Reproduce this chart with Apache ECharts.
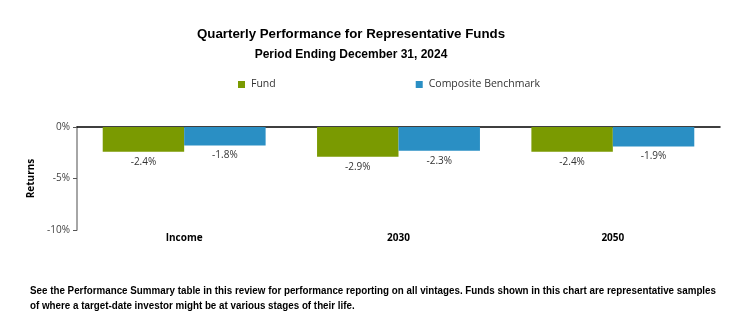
<!DOCTYPE html>
<html><head><meta charset="utf-8">
<script src="https://cdn.jsdelivr.net/npm/echarts@6/dist/echarts.min.js"></script>
<style>html,body{margin:0;padding:0;background:#fff}#c{width:747px;height:332px}</style>
</head><body><div id="c"></div>
<script>
const categories = ['Income', '2030', '2050'];
const fundValues = [-2.4, -2.9, -2.4];
const benchmarkValues = [-1.8, -2.3, -1.9];
const yTicks = [0, -5, -10];
const titleText = 'Quarterly Performance for Representative Funds';
const subtitleText = 'Period Ending December 31, 2024';
const footLine1 = 'See the Performance Summary table in this review for performance reporting on all vintages. Funds shown in this chart are representative samples';
const footLine2 = 'of where a target-date investor might be at various stages of their life.';

const footFont = 'bold 10.5px "Liberation Sans"';
const mctx = document.createElement('canvas').getContext('2d');
mctx.font = footFont;
const footScale = 686 / mctx.measureText(footLine1).width;

const chart = echarts.init(document.getElementById('c'), null, {renderer: 'canvas'});
const labelStyle = {show: true, position: 'bottom', distance: 5, fontSize: 10, color: '#333', fontFamily: 'Open Sans', formatter: p => p.value.toFixed(1) + '%'};
chart.setOption({
  animation: false,
  title: [
    {text: titleText, left: 346, textAlign: 'center', top: 23, textStyle: {fontFamily: 'Liberation Sans', fontWeight: 'bold', fontSize: 13.3, color: '#000'}},
    {text: subtitleText, left: 346, textAlign: 'center', top: 44, textStyle: {fontFamily: 'Liberation Sans', fontWeight: 'bold', fontSize: 12, color: '#000'}}
  ],
  legend: {left: 233, top: 74, itemWidth: 7, itemHeight: 7, itemGap: 140, icon: 'rect',
    textStyle: {fontFamily: 'Open Sans', fontSize: 10.5, color: '#333', padding: [0,0,0,1]}},
  grid: {left: 77, right: 27, top: 127, bottom: 102},
  xAxis: [
    {type: 'category', data: categories, position: 'bottom',
      axisLine: {show: false}, axisTick: {show: false},
      axisLabel: {margin: 3, fontWeight: 'bold', fontSize: 10, color: '#000', fontFamily: 'Open Sans'}},
    {type: 'category', data: categories, position: 'top',
      axisLine: {show: true, lineStyle: {color: '#000', width: 1.5}}, axisTick: {show: false}, axisLabel: {show: false}}
  ],
  yAxis: {type: 'value', min: -10, max: 0, interval: 5,
    name: 'Returns', nameLocation: 'middle', nameGap: 39, nameRotate: 90,
    nameTextStyle: {fontWeight: 'bold', fontSize: 10, color: '#000', fontFamily: 'Open Sans'},
    axisLine: {show: true, lineStyle: {color: '#888', width: 1.5}},
    axisTick: {show: true, length: 4, lineStyle: {color: '#555'}},
    splitLine: {show: false},
    axisLabel: {fontSize: 10, color: '#444', fontFamily: 'Open Sans', margin: 7,
      formatter: v => yTicks.includes(v) ? v + '%' : ''}},
  series: [
    {name: 'Fund', type: 'bar', data: fundValues, barGap: '0%', barCategoryGap: '24%', itemStyle: {color: '#7a9a01'}, label: labelStyle},
    {name: 'Composite Benchmark', type: 'bar', data: benchmarkValues, itemStyle: {color: '#2a8fc4'}, label: labelStyle}
  ],
  graphic: [
    {type: 'text', x: 30, y: 286, scaleX: footScale, style: {text: footLine1, font: footFont, fill: '#000'}},
    {type: 'text', x: 30, y: 301, scaleX: footScale, style: {text: footLine2, font: footFont, fill: '#000'}}
  ]
});
</script></body></html>
